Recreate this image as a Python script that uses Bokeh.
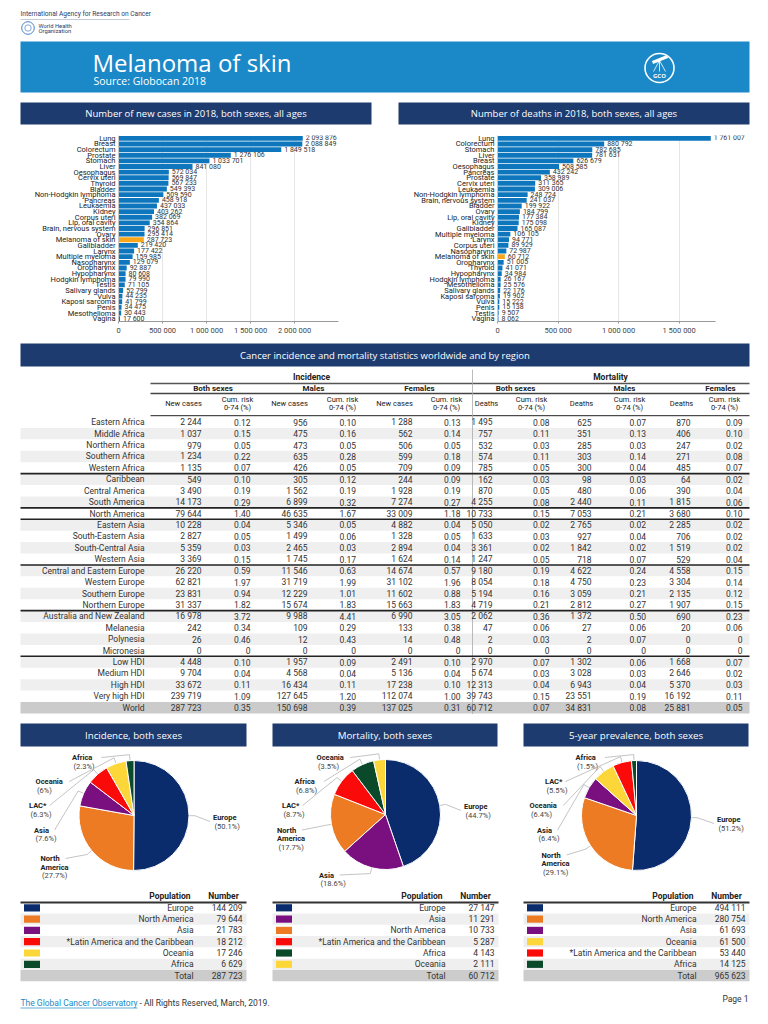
import numpy as np
from bokeh.plotting import figure
from bokeh.models import Range1d, FactorRange, FixedTicker, LabelSet, ColumnDataSource
from bokeh.layouts import column, row
from bokeh.embed import file_html
from bokeh.resources import INLINE
from bokeh.core.properties import value

# ---------------- data ----------------
inc_cancers = ["Lung", "Breast", "Colorectum", "Prostate", "Stomach", "Liver", "Oesophagus",
               "Cervix uteri", "Thyroid", "Bladder", "Non-Hodgkin lymphoma", "Pancreas", "Leukaemia",
               "Kidney", "Corpus uteri", "Lip, oral cavity", "Brain, nervous system", "Ovary",
               "Melanoma of skin", "Gallbladder", "Larynx", "Multiple myeloma", "Nasopharynx",
               "Oropharynx", "Hypopharynx", "Hodgkin lymphoma", "Testis", "Salivary glands", "Vulva",
               "Kaposi sarcoma", "Penis", "Mesothelioma", "Vagina"]
inc_counts = [2093876, 2088849, 1849518, 1276106, 1033701, 841080, 572034, 569847, 567233, 549393,
              509590, 458918, 437033, 403262, 382069, 354864, 296851, 295414, 287723, 219420, 177422,
              159985, 129079, 92887, 80608, 79990, 71105, 52799, 44235, 41799, 34475, 30443, 17600]

death_cancers = ["Lung", "Colorectum", "Stomach", "Liver", "Breast", "Oesophagus", "Pancreas",
                 "Prostate", "Cervix uteri", "Leukaemia", "Non-Hodgkin lymphoma", "Brain, nervous system",
                 "Bladder", "Ovary", "Lip, oral cavity", "Kidney", "Gallbladder", "Multiple myeloma",
                 "Larynx", "Corpus uteri", "Nasopharynx", "Melanoma of skin", "Oropharynx", "Thyroid",
                 "Hypopharynx", "Hodgkin lymphoma", "Mesothelioma", "Salivary glands", "Kaposi sarcoma",
                 "Vulva", "Penis", "Testis", "Vagina"]
death_counts = [1761007, 880792, 782685, 781631, 626679, 508585, 432242, 358989, 311365, 309006,
                248724, 241037, 199922, 184799, 177384, 175098, 165087, 106105, 94771, 89929, 72987,
                60712, 51005, 41071, 34984, 26167, 25576, 22176, 19902, 15222, 15138, 9507, 8062]

inc_ticks = [0, 500000, 1000000, 1500000, 2000000]
inc_tick_labels = ["0", "500 000", "1 000 000", "1 500 000", "2 000 000"]
death_ticks = [0, 500000, 1000000, 1500000]
death_tick_labels = ["0", "500 000", "1 000 000", "1 500 000"]

regions = ["Eastern Africa", "Middle Africa", "Northern Africa", "Southern Africa", "Western Africa",
           "Caribbean", "Central America", "South America", "North America", "Eastern Asia",
           "South-Eastern Asia", "South-Central Asia", "Western Asia", "Central and Eastern Europe",
           "Western Europe", "Southern Europe", "Northern Europe", "Australia and New Zealand",
           "Melanesia", "Polynesia", "Micronesia", "Low HDI", "Medium HDI", "High HDI",
           "Very high HDI", "World"]
region_group_sizes = [5, 3, 1, 4, 4, 4, 4, 1]

inc_both_cases = [2244, 1037, 979, 1234, 1135, 549, 3490, 14173, 79644, 10228, 2827, 5359, 3369, 26220,
                  62821, 23831, 31337, 16978, 242, 26, 0, 4448, 9704, 33672, 239719, 287723]
inc_both_risk = [0.12, 0.15, 0.05, 0.22, 0.07, 0.10, 0.19, 0.29, 1.40, 0.04, 0.05, 0.03, 0.15, 0.59,
                 1.97, 0.94, 1.82, 3.72, 0.34, 0.46, 0, 0.10, 0.04, 0.11, 1.09, 0.35]
inc_male_cases = [956, 475, 473, 635, 426, 305, 1562, 6899, 46635, 5346, 1499, 2465, 1745, 11546,
                  31719, 12229, 15674, 9988, 109, 12, 0, 1957, 4568, 16434, 127645, 150698]
inc_male_risk = [0.10, 0.16, 0.05, 0.28, 0.05, 0.12, 0.19, 0.32, 1.67, 0.05, 0.06, 0.03, 0.17, 0.63,
                 1.99, 1.01, 1.83, 4.41, 0.29, 0.43, 0, 0.09, 0.04, 0.11, 1.20, 0.39]
inc_female_cases = [1288, 562, 506, 599, 709, 244, 1928, 7274, 33009, 4882, 1328, 2894, 1624, 14674,
                    31102, 11602, 15663, 6990, 133, 14, 0, 2491, 5136, 17238, 112074, 137025]
inc_female_risk = [0.13, 0.14, 0.05, 0.18, 0.09, 0.09, 0.19, 0.27, 1.18, 0.04, 0.05, 0.04, 0.14, 0.57,
                   1.96, 0.88, 1.83, 3.05, 0.38, 0.48, 0, 0.10, 0.04, 0.10, 1.00, 0.31]
mort_both_deaths = [1495, 757, 532, 574, 785, 162, 870, 4255, 10733, 5050, 1633, 3361, 1247, 9180,
                    8054, 5194, 4719, 2062, 47, 2, 0, 2970, 5674, 12313, 39743, 60712]
mort_both_risk = [0.08, 0.11, 0.03, 0.11, 0.05, 0.03, 0.05, 0.08, 0.15, 0.02, 0.03, 0.02, 0.05, 0.19,
                  0.18, 0.16, 0.21, 0.36, 0.06, 0.03, 0, 0.07, 0.03, 0.04, 0.15, 0.07]
mort_male_deaths = [625, 351, 285, 303, 300, 98, 480, 2440, 7053, 2765, 927, 1842, 718, 4622, 4750,
                    3059, 2812, 1372, 27, 2, 0, 1302, 3028, 6943, 23551, 34831]
mort_male_risk = [0.07, 0.13, 0.03, 0.14, 0.04, 0.03, 0.06, 0.11, 0.21, 0.02, 0.04, 0.02, 0.07, 0.24,
                  0.23, 0.21, 0.27, 0.50, 0.06, 0.07, 0, 0.06, 0.03, 0.04, 0.19, 0.08]
mort_female_deaths = [870, 406, 247, 271, 485, 64, 390, 1815, 3680, 2285, 706, 1519, 529, 4558, 3304,
                      2135, 1907, 690, 20, 0, 0, 1668, 2646, 5370, 16192, 25881]
mort_female_risk = [0.09, 0.10, 0.02, 0.08, 0.07, 0.02, 0.04, 0.06, 0.10, 0.02, 0.02, 0.02, 0.04, 0.15,
                    0.14, 0.12, 0.15, 0.23, 0.06, 0, 0, 0.07, 0.02, 0.03, 0.11, 0.05]

inc_pop = ["Europe", "North America", "Asia", "*Latin America and the Caribbean", "Oceania", "Africa"]
inc_num = [144209, 79644, 21783, 18212, 17246, 6629]
mort_pop = ["Europe", "Asia", "North America", "*Latin America and the Caribbean", "Africa", "Oceania"]
mort_num = [27147, 11291, 10733, 5287, 4143, 2111]
prev_pop = ["Europe", "North America", "Asia", "Oceania", "*Latin America and the Caribbean", "Africa"]
prev_num = [494111, 280754, 61693, 61500, 53440, 14125]

# ---------------- styles ----------------
BANNER = "#1b88c7"
NAVY = "#1e3b6f"
BAR = "#0e76bc"
HL = "#f9a61a"
REGION_COLORS = {"Europe": "#0b2c6c", "North America": "#ec7b23", "Asia": "#7a0f80",
                 "*Latin America and the Caribbean": "#fb0a0a", "Oceania": "#fdd63a",
                 "Africa": "#0a4a2b"}
SHORT = {"Europe": "Europe", "North America": "North America", "Asia": "Asia",
         "*Latin America and the Caribbean": "LAC*", "Oceania": "Oceania", "Africa": "Africa"}
FONT = "Open Sans"
TF = "Roboto"
XR = 764  # right edge of the page area used


def fmt_int(v):
    return f"{int(v):,}".replace(",", " ")


def fmt_risk(v):
    return "0" if v == 0 else f"{v:.2f}"


def pct_label(v, total):
    s = f"{v / total * 100:.1f}"
    if s.endswith(".0"):
        s = s[:-2]
    return f"({s}%)"


def canvas(x0, x1, y0, y1):
    p = figure(width=x1 - x0, height=y1 - y0, x_range=Range1d(x0, x1), y_range=Range1d(-y1, -y0),
               x_axis_location=None, y_axis_location=None, toolbar_location=None,
               output_backend="svg", min_border=0, outline_line_color=None)
    p.grid.visible = False
    p.background_fill_color = "white"
    p.border_fill_color = "white"
    return p


def T(p, xs, ys, texts, size, color="#333333", align="left", font=TF, bold=False):
    texts = list(texts)
    n = len(texts)
    xs = list(xs) if hasattr(xs, "__len__") else [xs] * n
    ys = list(ys) if hasattr(ys, "__len__") else [ys] * n
    p.text(x=xs, y=[-float(v) for v in ys], text=texts, text_font=value(font),
           text_font_size=value(f"{size}px"), text_color=color, text_align=align,
           text_baseline="middle", text_font_style="bold" if bold else "normal")


def R(p, l, r, t, b, color):
    p.quad(left=list(l), right=list(r), top=[-float(v) for v in t], bottom=[-float(v) for v in b],
           fill_color=color, line_color=None)


def Hl(p, x0, x1, y, color, w):
    p.segment(x0=list(x0), x1=list(x1), y0=[-float(v) for v in y], y1=[-float(v) for v in y],
              line_color=color, line_width=w)


# ---------------- header ----------------
hdr = canvas(0, XR, 0, 128)
T(hdr, [20], [13.8], ["International Agency for Research on Cancer"], 6.6, "#27406b")
Hl(hdr, [20], [129], [19], "#9aa7bd", 0.6)
hdr.circle(x=[27.5], y=[-27.5], radius=6.3, fill_color=None, line_color="#4a82c6", line_width=1)
hdr.circle(x=[27.5], y=[-27.5], radius=3.2, fill_color=None, line_color="#4a82c6", line_width=0.7)
T(hdr, [38, 38], [25.3, 30.3], ["World Health", "Organization"], 5.8, "#27406b")
R(hdr, [20], [749], [41], [92], BANNER)
T(hdr, [92], [61.5], ["Melanoma of skin"], 24, "white", font=FONT)
T(hdr, [93], [80], ["Source: Globocan 2018"], 10.5, "white", font=FONT)
hdr.circle(x=[659], y=[-67.5], radius=14.5, fill_color=None, line_color="white", line_width=1.6)
hdr.segment(x0=[652], y0=[-62], x1=[667], y1=[-56], line_color="white", line_width=3)
hdr.segment(x0=[659, 659, 659], y0=[-60, -60, -60], x1=[653, 659, 665], y1=[-71, -71, -71],
            line_color="white", line_width=0.8)
T(hdr, [659], [75.5], ["GCO"], 6, "white", align="center", bold=True, font=FONT)
R(hdr, [20, 398], [371, 749], [102, 102], [124, 124], NAVY)
T(hdr, [195.5, 573.5], [113, 113],
  ["Number of new cases in 2018, both sexes, all ages", "Number of deaths in 2018, both sexes, all ages"],
  9.5, "white", align="center", font=FONT)


# ---------------- bar charts ----------------
def bar_chart(cats, vals, axis_max, axis_px, frame_px, ticks, tick_labels, width, bl, br):
    xmax = axis_max * frame_px / axis_px
    p = figure(width=width, height=209, y_range=FactorRange(factors=cats[::-1]),
               x_range=Range1d(0, xmax), toolbar_location=None, output_backend="svg",
               min_border_left=bl, min_border_right=br, min_border_top=7, min_border_bottom=16,
               outline_line_color=None)
    colors = [HL if c == "Melanoma of skin" else BAR for c in cats]
    src = ColumnDataSource(dict(cat=cats, val=vals, color=colors, lab=[fmt_int(v) for v in vals]))
    p.hbar(y="cat", right="val", left=0, height=0.86, fill_color="color", line_color=None, source=src)
    p.add_layout(LabelSet(x="val", y="cat", text="lab", source=src, x_offset=3,
                          text_font=value(TF), text_font_size="7px", text_color="#333333",
                          text_baseline="middle"))
    p.xaxis.bounds = (0, axis_max)
    p.xaxis.ticker = FixedTicker(ticks=ticks)
    p.xaxis.major_label_overrides = {int(t): l for t, l in zip(ticks, tick_labels)}
    p.xaxis.major_label_text_font = TF
    p.xaxis.major_label_text_font_size = "7.5px"
    p.xaxis.major_label_text_color = "#444444"
    p.xaxis.axis_line_color = "#999999"
    p.xaxis.major_tick_line_color = "#999999"
    p.xaxis.major_tick_out = 2
    p.xaxis.major_tick_in = 0
    p.xaxis.minor_tick_line_color = None
    p.xaxis.major_label_standoff = 2
    p.yaxis.major_tick_line_color = None
    p.yaxis.minor_tick_line_color = None
    p.yaxis.major_tick_out = 0
    p.yaxis.major_tick_in = 0
    p.yaxis.axis_line_color = "#c8c8c8"
    p.yaxis.major_label_text_font = TF
    p.yaxis.major_label_text_font_size = "7.5px"
    p.yaxis.major_label_text_color = "#222222"
    p.yaxis.major_label_standoff = 3
    p.xgrid.grid_line_color = "#e6e6e6"
    p.ygrid.grid_line_color = None
    p.background_fill_color = "white"
    p.border_fill_color = "white"
    return p


left = bar_chart(inc_cancers, inc_counts, 2500000, 220, 220, inc_ticks, inc_tick_labels, 390, 118, 52)
right = bar_chart(death_cancers, death_counts, 1800000, 218, 248, death_ticks, death_tick_labels,
                  XR - 390, 107, XR - 390 - 107 - 248)

# ---------------- statistics table ----------------
tab = canvas(0, XR, 337, 718)
R(tab, [20], [749], [343], [366], NAVY)
T(tab, [384.5], [354.5], ["Cancer incidence and mortality statistics worldwide and by region"],
  9.5, "white", align="center", font=FONT)
n = len(regions)
ry = [421.7 + 11.42 * i for i in range(n)]
bands = [i for i in range(n - 1) if i % 2 == 1]
R(tab, [20] * len(bands), [749] * len(bands), [ry[i] - 5.71 for i in bands],
  [ry[i] + 5.71 for i in bands], "#efefef")
R(tab, [20], [749], [ry[-1] - 5.71], [ry[-1] + 5.71], "#cbcbcb")

T(tab, [311, 610], [376, 376], ["Incidence", "Mortality"], 8.5, "#222222", align="center", bold=True)
T(tab, [212.5, 313, 419, 515, 624, 720], [388] * 6,
  ["Both sexes", "Males", "Females", "Both sexes", "Males", "Females"], 8, "#222222",
  align="center", bold=True)
nc_head_x = [183, 289, 394]
cr_head_x = [237, 342, 446, 531, 629, 724]
d_head_x = [486, 581, 681]
T(tab, nc_head_x, [402.7] * 3, ["New cases"] * 3, 7.5, "#222222", align="center")
T(tab, d_head_x, [402.7] * 3, ["Deaths"] * 3, 7.5, "#222222", align="center")
T(tab, cr_head_x, [398.8] * 6, ["Cum. risk"] * 6, 7.5, "#222222", align="center")
T(tab, cr_head_x, [407] * 6, ["0-74 (%)"] * 6, 7.5, "#222222", align="center")
Hl(tab, [150], [749], [383], "#555555", 1.5)
Hl(tab, [150], [749], [393], "#444444", 1.5)
Hl(tab, [150], [749], [415.2], "#222222", 1)
tab.segment(x0=[472], x1=[472], y0=[-369], y1=[-713.5], line_color="#aaaaaa", line_width=0.8)

bounds = np.cumsum(region_group_sizes)[:-2] - 1
sep_y = [ry[i] + 5.71 for i in bounds]
Hl(tab, [20] * len(sep_y), [749] * len(sep_y), sep_y, "#222222", 1.6)

T(tab, [144] * n, ry, regions, 8.5, "#333333", align="right")
cols = [(inc_both_cases, 201, fmt_int), (inc_both_risk, 250, fmt_risk),
        (inc_male_cases, 307, fmt_int), (inc_male_risk, 355.5, fmt_risk),
        (inc_female_cases, 412, fmt_int), (inc_female_risk, 460, fmt_risk),
        (mort_both_deaths, 492, fmt_int), (mort_both_risk, 549, fmt_risk),
        (mort_male_deaths, 591, fmt_int), (mort_male_risk, 645.5, fmt_risk),
        (mort_female_deaths, 690, fmt_int), (mort_female_risk, 742, fmt_risk)]
for vals, xr, f in cols:
    T(tab, [xr] * n, ry, [f(v) for v in vals], 8.5, "#333333", align="right")

# ---------------- pies + legends + footer ----------------
bot = canvas(0, XR, 718, 1018)
panel_x0 = [20, 272, 523]
R(bot, panel_x0, [246, 497, 748], [723] * 3, [746] * 3, NAVY)
T(bot, [133, 384.5, 635.5], [734.5] * 3,
  ["Incidence, both sexes", "Mortality, both sexes", "5-year prevalence, both sexes"],
  9.7, "white", align="center", font=FONT)

pie_labels = [
    {"Europe": (212.5, 817), "North America": (40, 858), "Asia": (33.5, 829.5),
     "LAC*": (28.5, 805), "Oceania": (35, 781), "Africa": (71.5, 757)},
    {"Europe": (463.5, 806), "Asia": (318.5, 874.5), "North America": (276.5, 829.5),
     "LAC*": (281.5, 805), "Africa": (294, 781), "Oceania": (316, 757)},
    {"Europe": (716.5, 819), "North America": (541, 854.5), "Asia": (536.5, 829.5),
     "Oceania": (529, 805), "LAC*": (544.5, 781), "Africa": (575, 757)},
]
pie_centers = [(133.5, 815), (385, 814), (636, 815)]
R_PIE = 55


def draw_pie(p, cx, cy, pops, nums, labels):
    arr = np.array(nums, float)
    total = arr.sum()
    cum = np.concatenate([[0.0], np.cumsum(arr / total)])
    a0 = np.pi / 2 - 2 * np.pi * cum[:-1]
    a1 = np.pi / 2 - 2 * np.pi * cum[1:]
    mid = (a0 + a1) / 2
    lxs, lys = [], []
    for k, pop in enumerate(pops):
        short = SHORT[pop]
        lx, ly = labels[short]
        lines = short.split(" ")
        for j, ln in enumerate(lines):
            T(p, [lx], [ly + 8.6 * j], [ln], 7.5, "#222222", bold=True)
        T(p, [lx + 1.5], [ly + 8.6 * len(lines)], [pct_label(nums[k], total)], 7.5, "#444444")
        if lx > cx:
            ax, ay = lx - 3, ly + 4
        else:
            ax, ay = lx + len(lines[0]) * 4.4 + 3, ly
        ex, ey = cx + R_PIE * np.cos(mid[k]), -cy + R_PIE * np.sin(mid[k])
        mx, my = cx + (R_PIE + 6) * np.cos(mid[k]), -cy + (R_PIE + 6) * np.sin(mid[k])
        lxs.append([ex, mx, ax])
        lys.append([ey, my, -ay])
    p.multi_line(xs=lxs, ys=lys, line_color="#b5b5b5", line_width=0.8)
    p.wedge(x=cx, y=-cy, radius=R_PIE, start_angle=list(a0), end_angle=list(a1), direction="clock",
            fill_color=[REGION_COLORS[q] for q in pops], line_color="white", line_width=1)


def draw_legend(p, x0, pops, nums):
    rows_y = [907.3 + 11.3 * i for i in range(len(pops) + 1)]
    odd = [i for i in range(len(pops)) if i % 2 == 1]
    R(p, [x0] * len(odd), [x0 + 226] * len(odd), [rows_y[i] - 5.65 for i in odd],
      [rows_y[i] + 5.65 for i in odd], "#efefef")
    R(p, [x0], [x0 + 226], [rows_y[-1] - 5.65], [rows_y[-1] + 5.65], "#cccccc")
    T(p, [x0 + 170], [895], ["Population"], 8.5, "#222222", align="right", bold=True)
    T(p, [x0 + 203], [895], ["Number"], 8.5, "#222222", align="center", bold=True)
    Hl(p, [x0], [x0 + 226], [902], "#333333", 1.8)
    m = len(pops)
    R(p, [x0 + 3.5] * m, [x0 + 19.5] * m, [y - 3.6 for y in rows_y[:m]], [y + 3.6 for y in rows_y[:m]],
      [REGION_COLORS[q] for q in pops])
    T(p, [x0 + 173] * (m + 1), rows_y, list(pops) + ["Total"], 8.5, "#333333", align="right")
    T(p, [x0 + 222] * (m + 1), rows_y, [fmt_int(v) for v in nums] + [fmt_int(sum(nums))], 8.5,
      "#333333", align="right")


for (cx, cy), pops, nums, labs, x0 in zip(pie_centers, [inc_pop, mort_pop, prev_pop],
                                         [inc_num, mort_num, prev_num], pie_labels, panel_x0):
    draw_pie(bot, cx, cy, pops, nums, labs)
    draw_legend(bot, x0, pops, nums)

T(bot, [20], [1002.5], ["The Global Cancer Observatory"], 8.5, "#1a8ac6")
Hl(bot, [20], [137], [1007.5], "#1a8ac6", 0.7)
T(bot, [139], [1002.5], ["- All Rights Reserved, March, 2019."], 8.5, "#333333")
T(bot, [748], [998], ["Page 1"], 8.5, "#333333", align="right")

layout = column(hdr, row(left, right), tab, bot)
open("out.html", "w").write(file_html(layout, INLINE))
